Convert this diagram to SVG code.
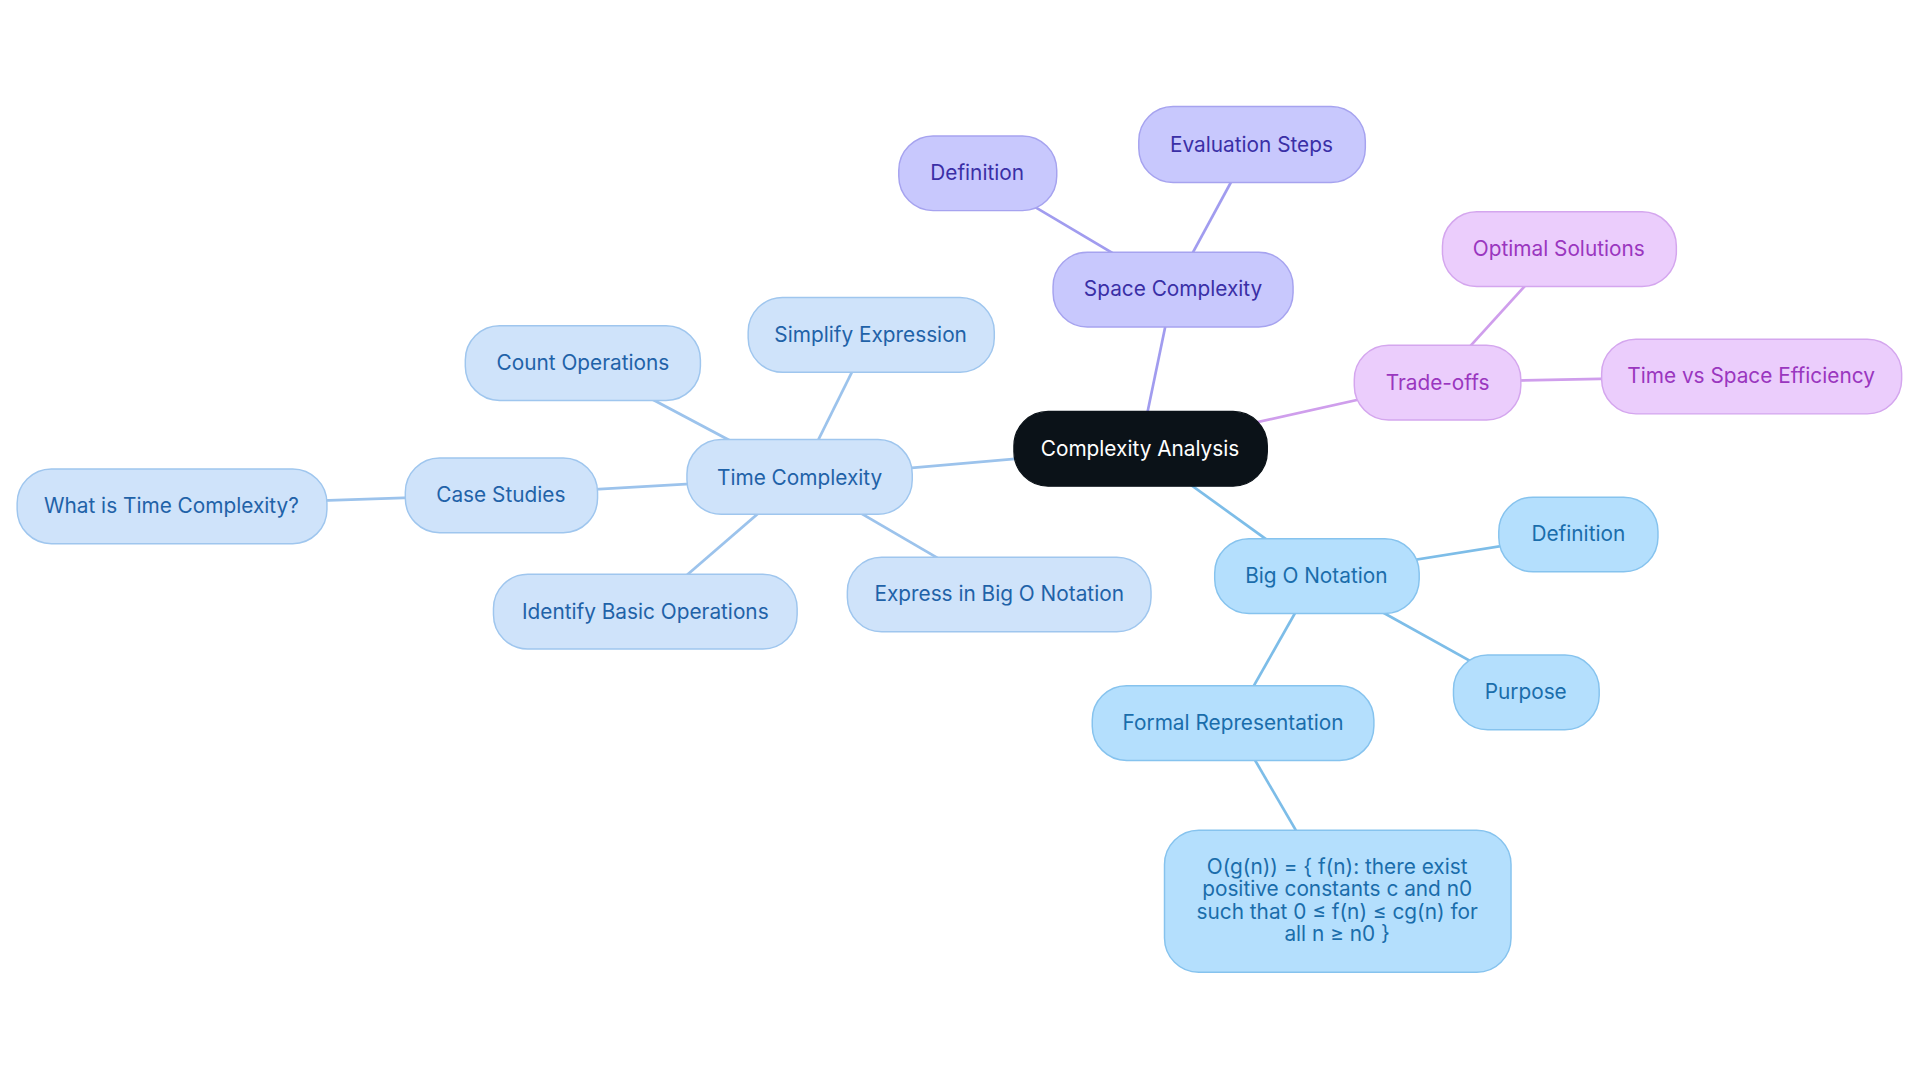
<svg xmlns="http://www.w3.org/2000/svg" width="1920" height="1083" viewBox="0 0 1920 1083">
<style>
text{font-family:Inter,"Liberation Sans",sans-serif;font-size:17px;text-anchor:middle;dominant-baseline:central}
.t rect{fill:#cfe3fa;stroke:#9fc6ee;stroke-width:1.2}.t text{fill:#1f62a8}
.s rect{fill:#c8c8fd;stroke:#a6a3ef;stroke-width:1.2}.s text{fill:#3a2fa6}
.o rect{fill:#ebcdfc;stroke:#d4a6ee;stroke-width:1.2}.o text{fill:#9a36bf}
.b rect{fill:#b4dffd;stroke:#86c3ee;stroke-width:1.2}.b text{fill:#1a6dab}
#edges line{stroke-width:2.2}
.et{stroke:#9cc3ec}.es{stroke:#a19cef}.eo{stroke:#cf9eec}.eb{stroke:#7dbde8}
</style>
<rect width="1920" height="1083" fill="#fff"/>
<g transform="scale(1.2245)">
<g id="edges">
<line class="et" x1="931" y1="366" x2="653" y2="390"/>
<line class="et" x1="653" y1="390" x2="476" y2="296"/>
<line class="et" x1="653" y1="390" x2="711" y2="273"/>
<line class="et" x1="653" y1="390" x2="409" y2="404"/>
<line class="et" x1="409" y1="404" x2="140" y2="413"/>
<line class="et" x1="653" y1="390" x2="527" y2="499"/>
<line class="et" x1="653" y1="390" x2="816" y2="485"/>
<line class="es" x1="931" y1="366" x2="958" y2="236"/>
<line class="es" x1="958" y1="236" x2="798" y2="141"/>
<line class="es" x1="958" y1="236" x2="1022" y2="118"/>
<line class="eo" x1="931" y1="366" x2="1174" y2="312"/>
<line class="eo" x1="1174" y1="312" x2="1273" y2="203"/>
<line class="eo" x1="1174" y1="312" x2="1430" y2="307"/>
<line class="eb" x1="931" y1="366" x2="1075" y2="470"/>
<line class="eb" x1="1075" y1="470" x2="1289" y2="436"/>
<line class="eb" x1="1075" y1="470" x2="1246" y2="565"/>
<line class="eb" x1="1075" y1="470" x2="1007" y2="590"/>
<line class="eb" x1="1007" y1="590" x2="1092" y2="736"/>
</g>
<g id="root"><rect x="828" y="336" width="207" height="61" rx="28" fill="#0b1218" stroke="#0b1218"/><text x="931" y="366" fill="#fff">Complexity Analysis</text></g>
<g id="time" class="t"><rect x="561" y="359" width="184" height="61" rx="28"/><text x="653" y="390">Time Complexity</text></g>
<g id="count" class="t"><rect x="380" y="266" width="192" height="61" rx="28"/><text x="476" y="296">Count Operations</text></g>
<g id="simplify" class="t"><rect x="611" y="243" width="201" height="61" rx="28"/><text x="711" y="273">Simplify Expression</text></g>
<g id="cases" class="t"><rect x="331" y="374" width="157" height="61" rx="28"/><text x="409" y="404">Case Studies</text></g>
<g id="what" class="t"><rect x="14" y="383" width="253" height="61" rx="28"/><text x="140" y="413">What is Time Complexity?</text></g>
<g id="identify" class="t"><rect x="403" y="469" width="248" height="61" rx="28"/><text x="527" y="499">Identify Basic Operations</text></g>
<g id="express" class="t"><rect x="692" y="455" width="248" height="61" rx="28"/><text x="816" y="485">Express in Big O Notation</text></g>
<g id="space" class="s"><rect x="860" y="206" width="196" height="61" rx="28"/><text x="958" y="236">Space Complexity</text></g>
<g id="sdef" class="s"><rect x="734" y="111" width="129" height="61" rx="28"/><text x="798" y="141">Definition</text></g>
<g id="eval" class="s"><rect x="930" y="87" width="185" height="62" rx="28"/><text x="1022" y="118">Evaluation Steps</text></g>
<g id="trade" class="o"><rect x="1106" y="282" width="136" height="61" rx="28"/><text x="1174" y="312">Trade-offs</text></g>
<g id="optimal" class="o"><rect x="1178" y="173" width="191" height="61" rx="28"/><text x="1273" y="203">Optimal Solutions</text></g>
<g id="tvs" class="o"><rect x="1308" y="277" width="245" height="61" rx="28"/><text x="1430" y="307">Time vs Space Efficiency</text></g>
<g id="bigo" class="b"><rect x="992" y="440" width="167" height="61" rx="28"/><text x="1075" y="470">Big O Notation</text></g>
<g id="bdef" class="b"><rect x="1224" y="406" width="130" height="61" rx="28"/><text x="1289" y="436">Definition</text></g>
<g id="purpose" class="b"><rect x="1187" y="535" width="119" height="61" rx="28"/><text x="1246" y="565">Purpose</text></g>
<g id="formal" class="b"><rect x="892" y="560" width="230" height="61" rx="28"/><text x="1007" y="590">Formal Representation</text></g>
<g id="formula" class="b"><rect x="951" y="678" width="283" height="116" rx="28"/>
<text x="1092" y="708">O(g(n)) = { f(n): there exist</text>
<text x="1092" y="726">positive constants c and n0</text>
<text x="1092" y="744">such that 0 ≤ f(n) ≤ cg(n) for</text>
<text x="1092" y="762">all n ≥ n0 }</text></g>
</g>
</svg>
